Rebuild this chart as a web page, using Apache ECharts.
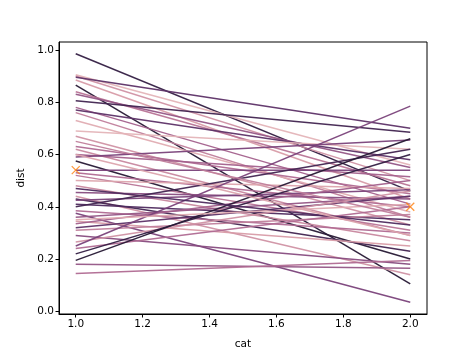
<!DOCTYPE html>
<html>
<head>
<meta charset="utf-8">
<script src="https://cdn.jsdelivr.net/npm/echarts@6/dist/echarts.min.js"></script>
<style>
html,body{margin:0;padding:0;background:#fff;}
#chart{width:474px;height:355px;}
</style>
</head>
<body>
<div id="chart"></div>
<script>
// x categories (positions on the numeric "cat" axis)
const catValues = [1, 2];
// dist value at cat=1 for each line
const leftValues = [0.985,0.905,0.90,0.895,0.885,0.865,0.84,0.83,0.805,0.78,
  0.77,0.76,0.73,0.69,0.67,0.63,0.62,0.60,0.59,0.575,
  0.54,0.53,0.52,0.50,0.48,0.455,0.44,0.43,0.425,0.41,
  0.40,0.385,0.375,0.36,0.345,0.335,0.32,0.31,0.29,0.265,
  0.25,0.24,0.22,0.195,0.18,0.145,0.35,0.47,0.60,0.65];
// dist value at cat=2 for each line
const rightValues = [0.46,0.56,0.50,0.70,0.43,0.105,0.48,0.55,0.685,0.41,
  0.58,0.36,0.38,0.62,0.33,0.45,0.29,0.515,0.655,0.20,
  0.54,0.40,0.31,0.47,0.27,0.43,0.14,0.23,0.465,0.35,
  0.62,0.30,0.035,0.44,0.25,0.50,0.44,0.37,0.18,0.46,
  0.785,0.40,0.60,0.66,0.165,0.195,0.41,0.33,0.29,0.36];
// hue value (0 = light, 1 = dark) for each line
const hueValues = [0.95,0.1,0.3,0.8,0.25,1.0,0.45,0.6,0.9,0.55,
  0.8,0.4,0.15,0.1,0.3,0.5,0.35,0.55,0.7,1.0,
  0.7,0.5,0.45,0.2,0.35,0.65,0.3,0.9,0.7,0.85,
  0.9,0.5,0.7,0.6,0.25,0.55,0.8,0.4,0.65,0.3,
  0.7,0.5,0.95,1.0,0.6,0.5,0.15,0.85,0.2,0.4];
// summary markers
const markerValues = [[1, 0.54], [2, 0.40]];
// tick labels
const xTicks = [1.0, 1.2, 1.4, 1.6, 1.8, 2.0];
const yTicks = [0.0, 0.2, 0.4, 0.6, 0.8, 1.0];

const stops = [
  [0.0, [236, 196, 194]],
  [0.25, [216, 156, 168]],
  [0.5, [176, 106, 146]],
  [0.7, [122, 66, 122]],
  [0.85, [78, 42, 94]],
  [1.0, [38, 24, 52]]
];
function hueColor(t) {
  for (let i = 1; i < stops.length; i++) {
    if (t <= stops[i][0]) {
      const a = stops[i-1], b = stops[i];
      const f = (t - a[0]) / (b[0] - a[0]);
      const c = a[1].map((v, k) => Math.round(v + (b[1][k] - v) * f));
      return 'rgb(' + c.join(',') + ')';
    }
  }
  const l = stops[stops.length-1][1];
  return 'rgb(' + l.join(',') + ')';
}

const series = leftValues.map((lv, i) => ({
  type: 'line',
  data: [[catValues[0], lv], [catValues[1], rightValues[i]]],
  showSymbol: false,
  silent: true,
  lineStyle: { color: hueColor(hueValues[i]), width: 1.5, opacity: 0.95 },
  z: 2
}));
series.push({
  type: 'scatter',
  data: markerValues,
  symbol: 'path://M0,0L10,10M10,0L0,10',
  symbolSize: 8,
  itemStyle: { color: 'none', borderColor: '#ff7f0e', borderWidth: 1.3 },
  z: 5
});

const font = 'DejaVu Sans';
const chart = echarts.init(document.getElementById('chart'), null, { renderer: 'canvas' });
chart.setOption({
  animation: false,
  backgroundColor: '#fff',
  grid: { left: 59, right: 47, top: 42, bottom: 39, show: true, borderColor: '#000', borderWidth: 1, backgroundColor: 'transparent' },
  xAxis: {
    type: 'value', min: 0.95, max: 2.05,
    name: 'cat', nameLocation: 'middle', nameGap: 25,
    nameTextStyle: { fontFamily: font, fontSize: 10.5, color: '#000' },
    axisLine: { show: true, onZero: false, lineStyle: { color: '#000', width: 1 } },
    axisTick: { show: true, length: 3.5, inside: false, customValues: xTicks, lineStyle: { color: '#000' } },
    axisLabel: { customValues: xTicks, formatter: v => Number(v).toFixed(1), fontFamily: font, fontSize: 10.5, color: '#000', margin: 5 },
    splitLine: { show: false }
  },
  yAxis: {
    type: 'value', min: -0.01, max: 1.03,
    name: 'dist', nameLocation: 'middle', nameGap: 27, nameRotate: 90,
    nameTextStyle: { fontFamily: font, fontSize: 10.5, color: '#000' },
    axisLine: { show: true, onZero: false, lineStyle: { color: '#000', width: 1 } },
    axisTick: { show: true, length: 3.5, inside: false, customValues: yTicks, lineStyle: { color: '#000' } },
    axisLabel: { customValues: yTicks, formatter: v => Number(v).toFixed(1), fontFamily: font, fontSize: 10.5, color: '#000', margin: 5 },
    splitLine: { show: false }
  },
  series: series
});
</script>
</body>
</html>
